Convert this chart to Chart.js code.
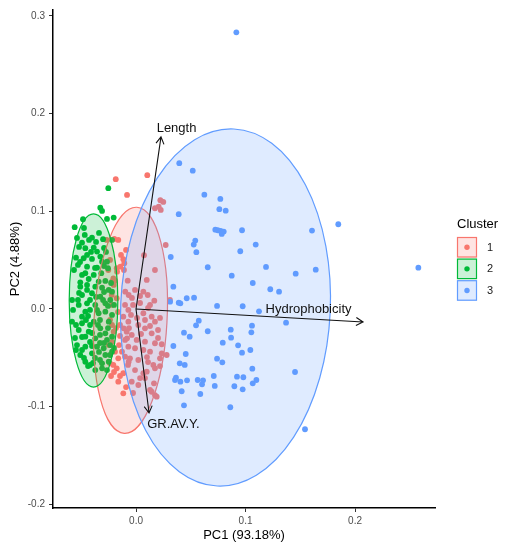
<!DOCTYPE html>
<html><head><meta charset="utf-8">
<script src="https://cdn.jsdelivr.net/npm/chart.js@4"></script>
<style>html,body{margin:0;padding:0;background:#fff}</style>
</head><body>
<canvas id="c" width="508" height="550"></canvas>
<script>
// ---- data ----
const clusterNames = ['1', '2', '3'];
const cluster1 = [
[-0.0185,0.1328],[0.0103,0.1369],[-0.0082,0.1167],[0.0222,0.1113],[0.0249,0.1096],[0.0207,0.1048],[0.0173,0.1031],[0.0226,0.1014],
[-0.0198,0.0717],[-0.0162,0.0707],[0.0271,0.0655],[-0.0091,0.0604],[-0.0137,0.0553],[-0.0116,0.0509],[-0.0107,0.0468],[0.0073,0.0550],
[-0.0176,0.0417],[-0.0110,0.0399],[0.0173,0.0399],[-0.0192,0.0290],[-0.0076,0.0290],[0.0098,0.0297],[-0.0268,0.0707],[-0.0237,0.0502],
[-0.0253,0.0399],[-0.0207,0.0314],[-0.0009,0.0195],[0.0067,0.0177],[0.0107,0.0143],[0.0167,0.0085],[0.0310,0.0092],[-0.0100,0.0041],
[-0.0070,-0.0010],[0.0067,-0.0044],[0.0143,-0.0079],[0.0173,-0.0130],[-0.0116,-0.0079],[-0.0070,-0.0130],[0.0021,-0.0164],[0.0082,-0.0198],
[0.0143,-0.0249],[-0.0085,-0.0232],[-0.0039,-0.0266],[-0.0100,-0.0317],[0.0006,-0.0317],[0.0082,-0.0335],[0.0173,-0.0351],[0.0235,-0.0361],
[-0.0070,-0.0386],[-0.0009,-0.0402],[0.0067,-0.0420],[0.0128,-0.0437],[0.0235,-0.0454],[0.0280,-0.0471],[-0.0100,-0.0488],[-0.0055,-0.0505],
[0.0021,-0.0522],[0.0219,-0.0505],[0.0158,-0.0573],[0.0173,-0.0607],[-0.0009,-0.0625],[0.0067,-0.0658],[0.0098,-0.0642],[-0.0116,-0.0658],
[-0.0162,-0.0744],[-0.0039,-0.0744],[0.0021,-0.0778],[-0.0116,-0.0863],[0.0143,-0.0847],[0.0173,-0.0881],[0.0128,-0.0829],[0.0164,-0.0761],
[-0.0222,0.0143],[-0.0176,0.0110],[-0.0192,-0.0437],[-0.0162,-0.0505],[-0.0207,-0.0573],[-0.0176,-0.0607],[-0.0237,-0.0556],[-0.0219,0.0041],
[-0.0164,-0.0031],[-0.0237,-0.0113],[-0.0183,-0.0195],[-0.0146,-0.0276],[-0.0219,-0.0338],[-0.0155,-0.0369],[-0.0201,-0.0645],[-0.0146,-0.0686],
[-0.0228,-0.0686],[-0.0037,0.0113],[0.0037,0.0061],[0.0110,0.0010],[-0.0046,-0.0061],[0.0009,-0.0092],[-0.0146,-0.0164],[0.0046,-0.0256],
[0.0201,-0.0297],[0.0100,-0.0492],[-0.0073,-0.0573],[0.0219,-0.0584],[-0.0091,-0.0799],[0.0082,-0.0707],[0.0189,-0.0898],[-0.0143,0.0433],
[-0.0173,0.0382],[-0.0219,0.0280],[-0.0204,0.0246],[-0.0098,0.0177],[-0.0067,0.0143],[-0.0219,-0.0164],[-0.0204,-0.0232],[-0.0249,-0.0369],
[-0.0112,-0.0198],[-0.0082,-0.0300],[-0.0128,-0.0437],[-0.0067,-0.0540],[0.0037,0.0133],[0.0128,0.0041],[-0.0027,0.0041],[0.0082,-0.0113],
[-0.0064,-0.0195],[0.0128,-0.0174],[0.0201,-0.0215],[0.0110,-0.0543],[0.0037,-0.0707],[-0.0027,-0.0860],[0.0219,-0.0092]
];
const cluster2 = [
[-0.0253,0.1236],[-0.0326,0.1037],[-0.0310,0.1004],[-0.0560,0.0837],[-0.0484,0.0919],[-0.0265,0.0922],[-0.0204,0.0935],[-0.0468,0.0758],
[-0.0402,0.0730],[-0.0301,0.0714],[-0.0493,0.0679],[-0.0463,0.0622],[-0.0386,0.0628],[-0.0356,0.0587],[-0.0447,0.0553],[-0.0326,0.0536],
[-0.0548,0.0525],[-0.0478,0.0519],[-0.0402,0.0512],[-0.0310,0.0484],[-0.0265,0.0484],[-0.0530,0.0451],[-0.0447,0.0433],[-0.0356,0.0423],
[-0.0256,0.0417],[-0.0463,0.0366],[-0.0386,0.0348],[-0.0317,0.0366],[-0.0432,0.0307],[-0.0509,0.0273],[-0.0341,0.0280],[-0.0280,0.0287],
[-0.0447,0.0246],[-0.0372,0.0228],[-0.0310,0.0218],[-0.0509,0.0228],[-0.0249,0.0195],[-0.0493,0.0143],[-0.0402,0.0161],[-0.0326,0.0126],
[-0.0219,0.0177],[-0.0523,0.0041],[-0.0447,0.0058],[-0.0372,0.0041],[-0.0280,0.0058],[-0.0235,0.0092],[-0.0463,-0.0028],[-0.0341,-0.0044],
[-0.0493,-0.0079],[-0.0280,-0.0028],[-0.0584,-0.0130],[-0.0493,-0.0146],[-0.0386,-0.0130],[-0.0249,-0.0130],[-0.0523,-0.0215],[-0.0432,-0.0232],
[-0.0326,-0.0198],[-0.0280,-0.0249],[-0.0463,-0.0284],[-0.0372,-0.0300],[-0.0265,-0.0317],[-0.0219,-0.0284],[-0.0539,-0.0369],[-0.0463,-0.0386],
[-0.0356,-0.0386],[-0.0295,-0.0402],[-0.0509,-0.0471],[-0.0402,-0.0454],[-0.0280,-0.0471],[-0.0219,-0.0437],[-0.0463,-0.0540],[-0.0310,-0.0556],
[-0.0249,-0.0540],[-0.0372,-0.0625],[-0.0310,-0.0607],[-0.0420,0.0092],[-0.0356,-0.0010],[-0.0420,-0.0164],[-0.0329,-0.0113],[-0.0557,-0.0297],
[-0.0420,-0.0338],[-0.0329,-0.0266],[-0.0237,-0.0369],[-0.0374,-0.0502],[-0.0493,-0.0420],[-0.0420,-0.0573],[-0.0530,0.0092],[-0.0301,0.0092],
[-0.0457,-0.0113],[-0.0402,-0.0246],[-0.0256,-0.0195],[-0.0365,0.0686],[-0.0411,0.0584],[-0.0292,0.0625],[-0.0493,0.0348],[-0.0475,0.0829],
[-0.0539,0.0727],[-0.0566,0.0399],[-0.0520,0.0164],[-0.0420,-0.0010],[-0.0365,0.0123],[-0.0292,0.0174],[-0.0228,0.0266],[-0.0201,0.0041],
[-0.0575,-0.0010],[-0.0548,-0.0420],[-0.0475,-0.0502],[-0.0338,-0.0440],[-0.0237,-0.0471],[-0.0402,-0.0379],[-0.0347,-0.0164],[-0.0292,-0.0348],
[-0.0438,-0.0072],[-0.0219,-0.0061],[-0.0548,-0.0164],[-0.0374,0.0420],[-0.0292,0.0440],[-0.0511,0.0481],[-0.0429,0.0707],[-0.0338,0.0778],
[-0.0520,0.0635],[-0.0274,0.0584],[-0.0219,0.0707],[-0.0256,0.0031],[-0.0584,0.0092],[-0.0329,-0.0522],[-0.0393,-0.0553],[-0.0438,-0.0584],
[-0.0265,-0.0625],[-0.0201,-0.0399],[-0.0493,-0.0287],[-0.0329,-0.0348],[-0.0447,0.0195]
];
const cluster3 = [
[0.0916,0.2832],[0.2578,0.0423],[0.0395,0.1492],[0.0518,0.1416],[0.0624,0.1170],[0.0770,0.1126],[0.0761,0.1021],[0.0819,0.1006],
[0.0390,0.0970],[0.0724,0.0812],[0.0746,0.0806],[0.0773,0.0799],[0.0801,0.0792],[0.0783,0.0768],[0.0968,0.0806],[0.1607,0.0802],
[0.1847,0.0867],[0.0541,0.0700],[0.0527,0.0659],[0.0551,0.0581],[0.0952,0.0591],[0.1093,0.0659],[0.0317,0.0532],[0.0655,0.0427],
[0.1187,0.0430],[0.1641,0.0402],[0.1458,0.0361],[0.0874,0.0341],[0.1066,0.0266],[0.0341,0.0228],[0.1226,0.0202],[0.1306,0.0177],
[0.0463,0.0110],[0.0530,0.0116],[0.0390,0.0065],[0.0405,0.0058],[0.0740,0.0031],[0.0974,0.0028],[0.1123,-0.0024],[0.1370,-0.0140],
[0.0573,-0.0120],[0.0548,-0.0167],[0.0438,-0.0243],[0.0490,-0.0284],[0.0655,-0.0228],[0.0865,-0.0212],[0.0868,-0.0294],[0.1059,-0.0171],
[0.1053,-0.0239],[0.0341,-0.0379],[0.0792,-0.0345],[0.0932,-0.0372],[0.1044,-0.0420],[0.0968,-0.0447],[0.0454,-0.0461],[0.0740,-0.0509],
[0.0788,-0.0546],[0.0399,-0.0556],[0.0445,-0.0573],[0.1062,-0.0611],[0.1452,-0.0645],[0.0356,-0.0727],[0.0365,-0.0703],[0.0405,-0.0744],
[0.0466,-0.0730],[0.0563,-0.0727],[0.0612,-0.0730],[0.0603,-0.0771],[0.0710,-0.0686],[0.0719,-0.0788],[0.0922,-0.0693],[0.0980,-0.0699],
[0.0898,-0.0791],[0.0974,-0.0822],[0.1099,-0.0727],[0.1066,-0.0761],[0.0417,-0.0842],[0.0587,-0.0870],[0.0438,-0.0986],[0.0861,-0.1006],
[0.1543,-0.1231],[0.0311,0.0075]
];
// confidence ellipses: centre, semi-axes (data units), tilt (deg)
const ellipseCX = [-0.0050, -0.0388, 0.0817];
const ellipseCY = [-0.0116, 0.0087, 0.0015];
const ellipseRX = [0.0333, 0.0222, 0.0957];
const ellipseRY = [0.1159, 0.0886, 0.1829];
const ellipseTilt = [3.2, 0, 2.66];
// variable loadings (arrows)
const varNames = ['Length', 'GR.AV.Y.', 'Hydrophobicity'];
const varPC1 = [0.0228, 0.0119, 0.2073];
const varPC2 = [0.1761, -0.1065, -0.0133];
const varLabelPC1 = [0.0370, 0.0342, 0.1575];
const varLabelPC2 = [0.1853, -0.1178, 0.0000];
const xTickStep = 0.1, yTickStep = 0.1;

// ---- styles ----
const colors = ['#F8766D', '#00BA38', '#619CFF'];
const FONT = '"Liberation Sans", Arial, sans-serif';
function rgba(hex, a) {
  const n = parseInt(hex.slice(1), 16);
  return `rgba(${(n >> 16) & 255},${(n >> 8) & 255},${n & 255},${a})`;
}
const fmt = v => (Math.abs(v) < 1e-9 ? '0.0' : v.toFixed(1));

const biplot = {
  id: 'biplot',
  afterDatasetsDraw(chart) {
    const { ctx, chartArea: a, scales: { x, y } } = chart;
    ctx.save();
    ctx.beginPath();
    ctx.rect(a.left, a.top, a.right - a.left, a.bottom - a.top);
    ctx.clip();
    for (let i = 0; i < ellipseCX.length; i++) {
      const cx = x.getPixelForValue(ellipseCX[i]);
      const cy = y.getPixelForValue(ellipseCY[i]);
      const rx = Math.abs(x.getPixelForValue(ellipseCX[i] + ellipseRX[i]) - cx);
      const ry = Math.abs(y.getPixelForValue(ellipseCY[i] + ellipseRY[i]) - cy);
      ctx.beginPath();
      ctx.ellipse(cx, cy, rx, ry, ellipseTilt[i] * Math.PI / 180, 0, Math.PI * 2);
      ctx.fillStyle = rgba(colors[i], 0.2);
      ctx.fill();
      ctx.strokeStyle = colors[i];
      ctx.lineWidth = 1.2;
      ctx.stroke();
    }
    const ox = x.getPixelForValue(0), oy = y.getPixelForValue(0);
    ctx.strokeStyle = '#111';
    ctx.lineWidth = 1.1;
    for (let i = 0; i < varNames.length; i++) {
      const tx = x.getPixelForValue(varPC1[i]), ty = y.getPixelForValue(varPC2[i]);
      ctx.beginPath();
      ctx.moveTo(ox, oy); ctx.lineTo(tx, ty);
      const ang = Math.atan2(ty - oy, tx - ox);
      const L = 8, w = Math.PI / 6;
      ctx.moveTo(tx - L * Math.cos(ang - w), ty - L * Math.sin(ang - w));
      ctx.lineTo(tx, ty);
      ctx.lineTo(tx - L * Math.cos(ang + w), ty - L * Math.sin(ang + w));
      ctx.stroke();
    }
    ctx.fillStyle = '#111';
    ctx.font = '13px ' + FONT;
    ctx.textAlign = 'center';
    ctx.textBaseline = 'middle';
    for (let i = 0; i < varNames.length; i++) {
      ctx.fillText(varNames[i], x.getPixelForValue(varLabelPC1[i]), y.getPixelForValue(varLabelPC2[i]));
    }
    ctx.restore();
  },
  afterDraw(chart) {
    const { ctx, chartArea: a } = chart;
    ctx.save();
    const lx = a.right + 22, ty = 224;
    ctx.fillStyle = '#000';
    ctx.font = '13px ' + FONT;
    ctx.textAlign = 'left';
    ctx.textBaseline = 'middle';
    ctx.fillText('Cluster', lx, ty);
    for (let i = 0; i < clusterNames.length; i++) {
      const by = 237 + i * 21.6;
      ctx.fillStyle = '#fff';
      ctx.fillRect(lx, by, 20, 20.5);
      ctx.fillStyle = rgba(colors[i], 0.2);
      ctx.fillRect(lx, by, 20, 20.5);
      ctx.strokeStyle = colors[i];
      ctx.lineWidth = 1.2;
      ctx.strokeRect(lx + 0.5, by + 0.5, 19, 19.5);
      ctx.beginPath();
      ctx.arc(lx + 10, by + 10.25, 2.7, 0, Math.PI * 2);
      ctx.fillStyle = colors[i];
      ctx.fill();
      ctx.fillStyle = '#1a1a1a';
      ctx.font = '11px ' + FONT;
      ctx.fillText(clusterNames[i], lx + 30, by + 10.5);
    }
    ctx.restore();
  }
};

const mk = (pts, i) => ({
  label: clusterNames[i],
  data: pts.map(p => ({ x: p[0], y: p[1] })),
  backgroundColor: colors[i],
  borderWidth: 0,
  pointRadius: 2.9,
  pointHoverRadius: 2.9,
  order: [3, 2, 1][i]
});

new Chart(document.getElementById('c'), {
  type: 'scatter',
  data: { datasets: [mk(cluster1, 0), mk(cluster2, 1), mk(cluster3, 2)] },
  options: {
    responsive: false,
    animation: false,
    devicePixelRatio: 1,
    events: [],
    layout: { padding: { left: 0, top: 10, right: 73, bottom: 0 } },
    plugins: { legend: { display: false }, tooltip: { enabled: false } },
    scales: {
      x: {
        type: 'linear', min: -0.0758, max: 0.273,
        afterFit: s => { s.height = 42; },
        ticks: { stepSize: xTickStep, includeBounds: false, callback: fmt, color: '#4D4D4D', font: { family: FONT, size: 10 }, padding: 3 },
        grid: { display: true, drawOnChartArea: false, drawTicks: true, tickLength: 4, color: '#333', lineWidth: 1 },
        border: { display: true, color: '#000', width: 1.5 },
        title: { display: true, text: 'PC1 (93.18%)', color: '#000', font: { family: FONT, size: 13 }, padding: { top: 0, bottom: 7 } }
      },
      y: {
        type: 'linear', min: -0.2037, max: 0.306,
        afterFit: s => { s.width = 53; },
        ticks: { stepSize: yTickStep, includeBounds: false, callback: fmt, color: '#4D4D4D', font: { family: FONT, size: 10 }, padding: 4 },
        grid: { display: true, drawOnChartArea: false, drawTicks: true, tickLength: 4, color: '#333', lineWidth: 1 },
        border: { display: true, color: '#000', width: 1.5 },
        title: { display: true, text: 'PC2 (4.88%)', color: '#000', font: { family: FONT, size: 13 }, padding: { top: 8, bottom: 0 } }
      }
    }
  },
  plugins: [biplot]
});
</script>
</body></html>
